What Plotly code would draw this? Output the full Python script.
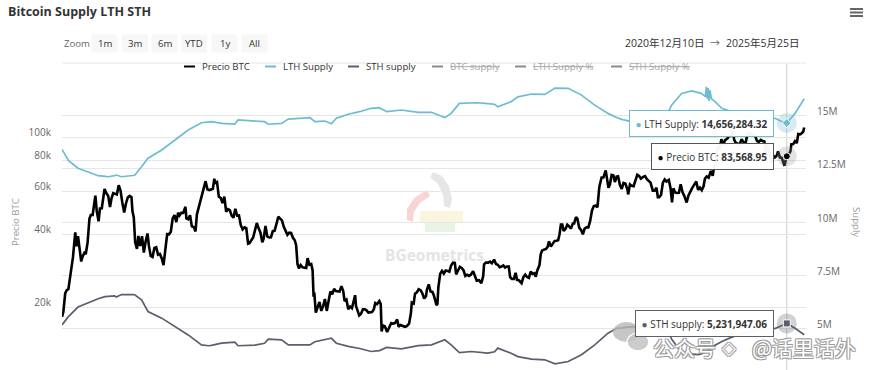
import math
import plotly.graph_objects as go

# ---------------- data ----------------
btc_dates = [
    "2020-12-10", "2020-12-13", "2020-12-17", "2020-12-20", "2020-12-24", "2020-12-27", "2020-12-31",
    "2021-01-03", "2021-01-08", "2021-01-11", "2021-01-14", "2021-01-17", "2021-01-21", "2021-01-24",
    "2021-01-28", "2021-01-31", "2021-02-04", "2021-02-08", "2021-02-11", "2021-02-15", "2021-02-18",
    "2021-02-21", "2021-02-24", "2021-02-28", "2021-03-03", "2021-03-07", "2021-03-10", "2021-03-13",
    "2021-03-17", "2021-03-21", "2021-03-25", "2021-03-28", "2021-04-01", "2021-04-05", "2021-04-09",
    "2021-04-13", "2021-04-17", "2021-04-21", "2021-04-25", "2021-04-29", "2021-05-03", "2021-05-07",
    "2021-05-11", "2021-05-13", "2021-05-16", "2021-05-19", "2021-05-23", "2021-05-26", "2021-05-30",
    "2021-06-03", "2021-06-07", "2021-06-11", "2021-06-15", "2021-06-18", "2021-06-22", "2021-06-26",
    "2021-06-30", "2021-07-04", "2021-07-08", "2021-07-12", "2021-07-16", "2021-07-20", "2021-07-24",
    "2021-07-28", "2021-08-01", "2021-08-05", "2021-08-09", "2021-08-13", "2021-08-17", "2021-08-21",
    "2021-08-24", "2021-08-28", "2021-09-01", "2021-09-06", "2021-09-08", "2021-09-12", "2021-09-16",
    "2021-09-20", "2021-09-24", "2021-09-28", "2021-10-01", "2021-10-05", "2021-10-09", "2021-10-13",
    "2021-10-16", "2021-10-20", "2021-10-24", "2021-10-28", "2021-11-01", "2021-11-05", "2021-11-08",
    "2021-11-10", "2021-11-14", "2021-11-18", "2021-11-22", "2021-11-26", "2021-11-30", "2021-12-04",
    "2021-12-08", "2021-12-12", "2021-12-16", "2021-12-20", "2021-12-24", "2021-12-28", "2022-01-01",
    "2022-01-05", "2022-01-09", "2022-01-13", "2022-01-17", "2022-01-21", "2022-01-24", "2022-01-28",
    "2022-02-01", "2022-02-05", "2022-02-09", "2022-02-13", "2022-02-17", "2022-02-21", "2022-02-24",
    "2022-02-28", "2022-03-04", "2022-03-08", "2022-03-12", "2022-03-16", "2022-03-20", "2022-03-24",
    "2022-03-28", "2022-04-01", "2022-04-05", "2022-04-09", "2022-04-13", "2022-04-17", "2022-04-21",
    "2022-04-25", "2022-04-29", "2022-05-03", "2022-05-06", "2022-05-09", "2022-05-12", "2022-05-16",
    "2022-05-20", "2022-05-24", "2022-05-28", "2022-05-31", "2022-06-04", "2022-06-08", "2022-06-11",
    "2022-06-13", "2022-06-15", "2022-06-18", "2022-06-22", "2022-06-26", "2022-06-30", "2022-07-04",
    "2022-07-08", "2022-07-12", "2022-07-16", "2022-07-20", "2022-07-24", "2022-07-28", "2022-08-01",
    "2022-08-05", "2022-08-09", "2022-08-13", "2022-08-17", "2022-08-20", "2022-08-24", "2022-08-28",
    "2022-09-01", "2022-09-05", "2022-09-09", "2022-09-12", "2022-09-14", "2022-09-18", "2022-09-21",
    "2022-09-25", "2022-09-29", "2022-10-03", "2022-10-07", "2022-10-11", "2022-10-15", "2022-10-19",
    "2022-10-23", "2022-10-26", "2022-10-30", "2022-11-04", "2022-11-07", "2022-11-09", "2022-11-12",
    "2022-11-16", "2022-11-21", "2022-11-25", "2022-11-30", "2022-12-04", "2022-12-08", "2022-12-13",
    "2022-12-16", "2022-12-20", "2022-12-25", "2022-12-30", "2023-01-03", "2023-01-08", "2023-01-12",
    "2023-01-14", "2023-01-18", "2023-01-21", "2023-01-25", "2023-01-29", "2023-02-02", "2023-02-06",
    "2023-02-10", "2023-02-14", "2023-02-16", "2023-02-20", "2023-02-24", "2023-02-28", "2023-03-03",
    "2023-03-09", "2023-03-11", "2023-03-13", "2023-03-17", "2023-03-21", "2023-03-25", "2023-03-29",
    "2023-04-02", "2023-04-06", "2023-04-10", "2023-04-14", "2023-04-18", "2023-04-21", "2023-04-25",
    "2023-04-29", "2023-05-03", "2023-05-07", "2023-05-11", "2023-05-15", "2023-05-19", "2023-05-23",
    "2023-05-28", "2023-06-01", "2023-06-05", "2023-06-10", "2023-06-15", "2023-06-19", "2023-06-21",
    "2023-06-25", "2023-06-30", "2023-07-04", "2023-07-08", "2023-07-13", "2023-07-17", "2023-07-21",
    "2023-07-25", "2023-07-29", "2023-08-02", "2023-08-06", "2023-08-10", "2023-08-14", "2023-08-17",
    "2023-08-21", "2023-08-25", "2023-08-29", "2023-09-01", "2023-09-05", "2023-09-11", "2023-09-15",
    "2023-09-19", "2023-09-23", "2023-09-27", "2023-10-01", "2023-10-05", "2023-10-09", "2023-10-12",
    "2023-10-16", "2023-10-20", "2023-10-23", "2023-10-26", "2023-10-30", "2023-11-03", "2023-11-07",
    "2023-11-10", "2023-11-14", "2023-11-18", "2023-11-22", "2023-11-26", "2023-11-30", "2023-12-03",
    "2023-12-06", "2023-12-09", "2023-12-12", "2023-12-16", "2023-12-20", "2023-12-24", "2023-12-28",
    "2024-01-01", "2024-01-04", "2024-01-08", "2024-01-11", "2024-01-15", "2024-01-19", "2024-01-23",
    "2024-01-27", "2024-01-31", "2024-02-04", "2024-02-08", "2024-02-12", "2024-02-16", "2024-02-20",
    "2024-02-24", "2024-02-28", "2024-03-04", "2024-03-08", "2024-03-13", "2024-03-16", "2024-03-19",
    "2024-03-22", "2024-03-26", "2024-03-30", "2024-04-02", "2024-04-06", "2024-04-09", "2024-04-13",
    "2024-04-17", "2024-04-21", "2024-04-25", "2024-04-30", "2024-05-01", "2024-05-05", "2024-05-09",
    "2024-05-13", "2024-05-17", "2024-05-21", "2024-05-25", "2024-05-29", "2024-06-03", "2024-06-07",
    "2024-06-11", "2024-06-15", "2024-06-19", "2024-06-24", "2024-06-28", "2024-07-02", "2024-07-05",
    "2024-07-08", "2024-07-12", "2024-07-16", "2024-07-20", "2024-07-24", "2024-07-29", "2024-08-02",
    "2024-08-05", "2024-08-08", "2024-08-12", "2024-08-16", "2024-08-20", "2024-08-24", "2024-08-28",
    "2024-09-01", "2024-09-06", "2024-09-10", "2024-09-14", "2024-09-18", "2024-09-22", "2024-09-27",
    "2024-10-01", "2024-10-05", "2024-10-09", "2024-10-13", "2024-10-16", "2024-10-20", "2024-10-24",
    "2024-10-29", "2024-11-02", "2024-11-05", "2024-11-08", "2024-11-11", "2024-11-13", "2024-11-17",
    "2024-11-21", "2024-11-25", "2024-11-29", "2024-12-04", "2024-12-08", "2024-12-11", "2024-12-16",
    "2024-12-19", "2024-12-23", "2024-12-27", "2024-12-31", "2025-01-04", "2025-01-07", "2025-01-10",
    "2025-01-13", "2025-01-17", "2025-01-20", "2025-01-24", "2025-01-27", "2025-01-31", "2025-02-03",
    "2025-02-07", "2025-02-11", "2025-02-15", "2025-02-19", "2025-02-23", "2025-02-26", "2025-02-28",
    "2025-03-02", "2025-03-04", "2025-03-08", "2025-03-10", "2025-03-14", "2025-03-18", "2025-03-22",
    "2025-03-25", "2025-03-29", "2025-04-02", "2025-04-06", "2025-04-08", "2025-04-10", "2025-04-13",
    "2025-04-17", "2025-04-21", "2025-04-23", "2025-04-27", "2025-05-01", "2025-05-05", "2025-05-08",
    "2025-05-12", "2025-05-15", "2025-05-19", "2025-05-21",
]
btc_price = [
    18250, 19150, 22800, 23450, 23730, 26270, 28990,
    32130, 40580, 35570, 39190, 35830, 30830, 32290,
    33470, 33110, 36940, 46200, 47910, 47940, 51590,
    57540, 49710, 45140, 50970, 51030, 55960, 61240,
    58870, 57390, 51700, 55770, 58920, 58730, 58200,
    63500, 60380, 53720, 49000, 53560, 56600, 57390,
    56700, 49720, 46760, 37000, 34770, 39290, 35680,
    39200, 33560, 37340, 40210, 35820, 32510, 32190,
    35040, 35290, 32880, 33130, 31800, 29800, 34280,
    39920, 39870, 40870, 46370, 47830, 44800, 48950,
    47700, 48900, 48850, 51770, 46400, 46000, 47800,
    43000, 42700, 41000, 48200, 51500, 54960, 57400,
    60900, 65990, 61120, 60600, 61000, 61400, 67550,
    64900, 65500, 56900, 56300, 53600, 57000, 49400,
    50600, 50100, 47600, 46700, 50800, 47600, 47700,
    43500, 41800, 42600, 42250, 36500, 36650, 37700,
    38700, 41400, 44400, 42200, 40500, 37000, 38300,
    43200, 39100, 38700, 38800, 41100, 41300, 44000,
    47100, 46300, 45500, 42800, 41100, 39700, 40500,
    40400, 38600, 37700, 36000, 30100, 28900, 29800,
    29200, 29100, 29000, 31800, 29900, 30100, 28400,
    22500, 22600, 19000, 19900, 21000, 19300, 20200,
    21600, 19300, 21200, 23200, 22600, 23800, 23300,
    23200, 23200, 24400, 23300, 21200, 21500, 19600,
    20100, 19800, 21400, 22400, 20200, 19400, 18500,
    18800, 19600, 19600, 19400, 19000, 19100, 19100,
    19600, 20800, 20600, 21200, 20600, 15900, 16800,
    16700, 15800, 16500, 17200, 17100, 17200, 17800,
    16600, 16900, 16800, 16600, 16700, 17100, 18900,
    20900, 20700, 22700, 23000, 23700, 23500, 22800,
    21700, 22200, 23600, 24800, 23200, 23100, 22400,
    20400, 20600, 24100, 27400, 28200, 27500, 28300,
    28200, 28000, 29700, 30500, 30400, 27300, 28300,
    29300, 29000, 28400, 26900, 27200, 26900, 27200,
    28100, 26800, 25700, 25800, 25100, 26800, 30000,
    30500, 30500, 30800, 30300, 31400, 30100, 29900,
    29200, 29400, 29700, 29100, 29400, 29400, 26600,
    26100, 26100, 27700, 25900, 25800, 25100, 26600,
    27200, 26600, 26400, 28000, 27400, 27600, 26700,
    28500, 29700, 33100, 34200, 34500, 34700, 35400,
    37300, 35500, 36600, 37400, 37500, 37700, 39900,
    43800, 43800, 41200, 41900, 43700, 43000, 42100,
    44200, 44200, 47000, 46300, 42500, 41600, 39900,
    42100, 42600, 42600, 45300, 50000, 52100, 52300,
    51600, 62500, 68300, 68300, 73100, 65300, 62000,
    63800, 70000, 69600, 65500, 68900, 69100, 63800,
    61300, 64900, 64500, 60600, 58200, 64000, 63100,
    62900, 67100, 70100, 69300, 67600, 68800, 69300,
    67300, 66200, 65100, 60300, 60300, 62100, 56700,
    56700, 57900, 65000, 67100, 65800, 66800, 61400,
    54000, 61700, 59300, 59000, 59100, 64100, 59400,
    57300, 53900, 57600, 60000, 61800, 63600, 65800,
    60800, 62100, 60600, 62900, 67600, 69000, 68200,
    72700, 69400, 75600, 76500, 88700, 90500, 89800,
    98300, 93000, 97400, 98800, 101200, 101200, 106100,
    97500, 94700, 94200, 93400, 98300, 96900, 94600,
    94500, 104100, 102000, 104700, 102000, 102400, 101300,
    96500, 95700, 97500, 96600, 96100, 84300, 84400,
    94200, 87200, 86100, 78500, 84300, 82700, 84000,
    87500, 82600, 82500, 78200, 76300, 79600, 83568.95,
    84900, 87500, 93700, 93800, 96500, 94700, 103200,
    102800, 103700, 105600, 109700,
]

supply_dates = [
    "2020-12-10", "2020-12-24", "2021-01-14", "2021-02-05", "2021-02-27", "2021-03-14", "2021-03-21",
    "2021-04-04", "2021-04-08", "2021-04-19", "2021-05-14", "2021-05-18", "2021-06-02", "2021-06-16",
    "2021-07-16", "2021-08-14", "2021-09-12", "2021-10-11", "2021-10-26", "2021-11-02", "2021-11-24",
    "2021-12-23", "2021-12-30", "2022-02-05", "2022-02-26", "2022-03-06", "2022-04-04", "2022-04-19",
    "2022-05-18", "2022-06-05", "2022-06-16", "2022-07-08", "2022-07-22", "2022-08-02", "2022-08-28",
    "2022-09-22", "2022-10-17", "2022-11-04", "2022-11-20", "2022-12-22", "2023-01-28", "2023-02-26",
    "2023-03-27", "2023-04-10", "2023-04-28", "2023-05-24", "2023-06-07", "2023-06-29", "2023-07-14",
    "2023-07-21", "2023-08-19", "2023-09-03", "2023-10-03", "2023-11-01", "2023-11-23", "2023-12-22",
    "2024-01-20", "2024-02-18", "2024-03-18", "2024-04-06", "2024-04-17", "2024-05-08", "2024-06-07",
    "2024-07-09", "2024-07-31", "2024-08-04", "2024-08-26", "2024-09-17", "2024-10-01", "2024-10-08",
    "2024-10-17", "2024-10-19", "2024-10-21", "2024-10-23", "2024-10-25", "2024-10-27", "2024-10-30",
    "2024-11-07", "2024-11-22", "2024-12-10", "2025-01-01", "2025-01-23", "2025-02-14", "2025-03-08",
    "2025-03-19", "2025-03-30", "2025-04-13", "2025-05-01", "2025-05-16", "2025-05-21",
]
lth_supply_m = [
    13.42, 12.90, 12.53, 12.37, 12.18, 12.15, 12.13,
    12.18, 12.21, 12.13, 12.17, 12.20, 12.60, 13.00,
    13.39, 13.86, 14.33, 14.67, 14.71, 14.72, 14.64,
    14.61, 14.80, 14.77, 14.72, 14.60, 14.64, 14.84,
    14.88, 14.91, 14.72, 14.75, 14.62, 14.88, 15.07,
    15.19, 15.35, 15.38, 15.19, 15.27, 15.16, 15.16,
    14.91, 15.11, 15.58, 15.60, 15.61, 15.57, 15.54,
    15.42, 15.66, 15.89, 16.02, 16.00, 16.30, 16.29,
    15.97, 15.50, 15.11, 14.92, 14.83, 14.72, 14.65,
    14.70, 15.30, 15.50, 16.05, 16.17, 16.10, 16.05,
    15.90, 16.36, 15.80, 16.30, 15.70, 16.20, 15.80,
    15.66, 15.35, 15.20, 15.05, 14.95, 14.87, 14.85,
    14.88, 14.75, 14.65628432, 15.11, 15.62, 15.80,
]
sth_supply_m = [
    5.16, 5.55, 6.00, 6.21, 6.39, 6.49, 6.50,
    6.53, 6.47, 6.59, 6.59, 6.58, 6.34, 5.79,
    5.48, 5.08, 4.69, 4.22, 4.18, 4.20, 4.30,
    4.35, 4.18, 4.21, 4.30, 4.49, 4.46, 4.22,
    4.21, 4.22, 4.37, 4.46, 4.54, 4.30, 4.15,
    4.05, 3.91, 3.95, 4.10, 4.03, 4.19, 4.22,
    4.46, 4.22, 3.86, 3.91, 3.88, 3.83, 3.90,
    4.07, 3.83, 3.67, 3.55, 3.52, 3.33, 3.44,
    3.76, 4.22, 4.77, 5.00, 5.02, 5.08, 5.05,
    5.00, 4.70, 4.50, 3.85, 3.80, 3.76, 3.80,
    3.86, 3.90, 3.94, 3.98, 4.02, 4.06, 4.10,
    4.20, 4.38, 4.55, 4.72, 4.83, 4.95, 4.98,
    5.00, 5.10, 5.23194706, 5.00, 4.80, 4.70,
]

left_tick_vals = [20000, 40000, 60000, 80000, 100000]
left_tick_text = ["20k", "40k", "60k", "80k", "100k"]
right_tick_vals = [5e6, 7.5e6, 10e6, 12.5e6, 15e6]
right_tick_text = ["5M", "7.5M", "10M", "12.5M", "15M"]
zoom_buttons = ["1m", "3m", "6m", "YTD", "1y", "All"]
legend_names = ["Precio BTC", "LTH Supply", "STH supply", "BTC supply", "LTH Supply %", "STH Supply %"]
legend_hidden = [False, False, False, True, True, True]
crosshair_date = "2025-04-13"
range_from = "2020年12月10日"
range_to = "2025年5月25日"
x_start, x_end = "2020-12-10", "2025-05-25"

# ---------------- style / layout ----------------
W, H = 875, 370
PL, PR, PT, PB = 62, 806, 63, 370
FONT = "Open Sans, Noto Sans, sans-serif"
CJK = "Open Sans, Noto Sans CJK SC, sans-serif"
C_BTC = "#000000"
C_LTH = "#6dbcd1"
C_STH = "#5b5e6b"
GRID = "#e6e6e6"
TXT = "#333333"
LBL = "#666666"


def px(x):
    return (x - PL) / (PR - PL)


def py(y):
    return (PB - y) / (PB - PT)


lth_abs = [v * 1e6 for v in lth_supply_m]
sth_abs = [v * 1e6 for v in sth_supply_m]

fig = go.Figure()
fig.add_trace(go.Scatter(x=supply_dates, y=sth_abs, yaxis="y2", mode="lines",
                         line=dict(color=C_STH, width=1.7), hoverinfo="skip", showlegend=False))
fig.add_trace(go.Scatter(x=supply_dates, y=lth_abs, yaxis="y2", mode="lines",
                         line=dict(color=C_LTH, width=1.7), hoverinfo="skip", showlegend=False))
fig.add_trace(go.Scatter(x=btc_dates, y=btc_price, yaxis="y", mode="lines",
                         line=dict(color=C_BTC, width=2.6), hoverinfo="skip", showlegend=False))

# crosshair hover markers
ib = btc_dates.index(crosshair_date)
isup = supply_dates.index(crosshair_date)
hover_pts = [
    (btc_price[ib], "y", C_BTC, "#9a9a9a", "circle"),
    (lth_abs[isup], "y2", C_LTH, C_LTH, "diamond"),
    (sth_abs[isup], "y2", C_STH, C_STH, "square"),
]
for val, ax, col, halo, sym in hover_pts:
    fig.add_trace(go.Scatter(x=[crosshair_date], y=[val], yaxis=ax, mode="markers",
                             marker=dict(size=20, color=halo, opacity=0.28, line=dict(width=0)),
                             hoverinfo="skip", showlegend=False))
    fig.add_trace(go.Scatter(x=[crosshair_date], y=[val], yaxis=ax, mode="markers",
                             marker=dict(size=7, color=col, symbol=sym, line=dict(width=1, color="white")),
                             hoverinfo="skip", showlegend=False))

shapes = []
annotations = []

# top grid line (17.5M level) and crosshair
shapes.append(dict(type="line", xref="paper", yref="paper", x0=0, x1=1, y0=1, y1=1,
                   line=dict(color=GRID, width=1)))
shapes.append(dict(type="line", xref="x", yref="paper", x0=crosshair_date, x1=crosshair_date,
                   y0=0, y1=1, line=dict(color="#cccccc", width=1), layer="below"))

# title
annotations.append(dict(xref="paper", yref="paper", x=px(6), y=py(11.5), xanchor="left", yanchor="middle",
                        text="<b>Bitcoin Supply LTH STH</b>", showarrow=False,
                        font=dict(family=FONT, size=12.5, color=TXT)))

# hamburger icon
for yy in (9, 12.5, 16):
    shapes.append(dict(type="line", xref="paper", yref="paper", x0=px(850), x1=px(863),
                       y0=py(yy), y1=py(yy), line=dict(color="#666666", width=2)))

# range selector
annotations.append(dict(xref="paper", yref="paper", x=px(62), y=py(43.5), xanchor="left", yanchor="middle",
                        text="Zoom", showarrow=False, font=dict(family=FONT, size=9.6, color=LBL)))
btn_centers = [104.5, 135, 164.5, 194, 224.5, 254.5]
for lab, cx in zip(zoom_buttons, btn_centers):
    shapes.append(dict(type="rect", xref="paper", yref="paper", x0=px(cx - 13), x1=px(cx + 13),
                       y0=py(52.5), y1=py(34.5), fillcolor="#f7f7f7", line=dict(width=0)))
    annotations.append(dict(xref="paper", yref="paper", x=px(cx), y=py(43.5), xanchor="center",
                            yanchor="middle", text=lab, showarrow=False,
                            font=dict(family=FONT, size=9.6, color=TXT)))

# date range inputs
annotations.append(dict(xref="paper", yref="paper", x=px(707), y=py(43.5), xanchor="right", yanchor="middle",
                        text=range_from, showarrow=False, font=dict(family=CJK, size=10.5, color=TXT)))
annotations.append(dict(xref="paper", yref="paper", x=px(715), y=py(43.5), xanchor="center", yanchor="middle",
                        text="→", showarrow=False, font=dict(family=CJK, size=10, color=LBL)))
annotations.append(dict(xref="paper", yref="paper", x=px(802), y=py(43.5), xanchor="right", yanchor="middle",
                        text=range_to, showarrow=False, font=dict(family=CJK, size=10.5, color=TXT)))

# legend
legend_colors = [C_BTC, C_LTH, C_STH, "#8a8a8a", "#8a8a8a", "#8a8a8a"]
legend_text_x = [200, 281, 364, 448, 531, 627]
for name, col, tx, hid in zip(legend_names, legend_colors, legend_text_x, legend_hidden):
    shapes.append(dict(type="line", xref="paper", yref="paper", x0=px(tx - 16), x1=px(tx - 5),
                       y0=py(66.5), y1=py(66.5), line=dict(color=col, width=2)))
    f = dict(family=FONT, size=9.6, color="#a8a8a8" if hid else TXT)
    if hid:
        f["lineposition"] = "through"
    annotations.append(dict(xref="paper", yref="paper", x=px(tx), y=py(66.5), xanchor="left",
                            yanchor="middle", text=name, showarrow=False, font=f))

# axis titles
annotations.append(dict(xref="paper", yref="paper", x=px(15), y=py(222), textangle=-90,
                        xanchor="center", yanchor="middle", text="Precio BTC", showarrow=False,
                        font=dict(family=FONT, size=9.6, color="#9a9a9a")))
annotations.append(dict(xref="paper", yref="paper", x=px(857), y=py(222), textangle=90,
                        xanchor="center", yanchor="middle", text="Supply", showarrow=False,
                        font=dict(family=FONT, size=9.6, color="#9a9a9a")))

# BGeometrics watermark
def path(points):
    return "M " + " L ".join(f"{px(a):.5f},{py(b):.5f}" for a, b in points) + " Z"

shapes.append(dict(type="path", xref="paper", yref="paper", layer="below",
                   path=path([(433, 172), (442, 176), (449, 186), (452, 199), (450, 208), (444, 206),
                              (443, 195), (438, 184), (430, 177)]),
                   fillcolor="#d6d6d6", opacity=0.6, line=dict(width=0)))
shapes.append(dict(type="path", xref="paper", yref="paper", layer="below",
                   path=path([(427, 190), (430, 196), (420, 203), (414, 212), (413, 222), (407, 220),
                              (407, 209), (414, 198)]),
                   fillcolor="#f2b9b9", opacity=0.6, line=dict(width=0)))
shapes.append(dict(type="rect", xref="paper", yref="paper", layer="below", x0=px(420), x1=px(463),
                   y0=py(222), y1=py(211), fillcolor="#f6f2cf", opacity=0.7, line=dict(width=0)))
shapes.append(dict(type="rect", xref="paper", yref="paper", layer="below", x0=px(425), x1=px(455),
                   y0=py(232), y1=py(222), fillcolor="#e0eedb", opacity=0.7, line=dict(width=0)))
annotations.append(dict(xref="paper", yref="paper", x=px(434), y=py(255), xanchor="center", yanchor="middle",
                        text="<b>BGeometrics</b>", showarrow=False,
                        font=dict(family=FONT, size=15.5, color="#e4e4e4")))

# tooltips (split, one per series at the crosshair)
tips = [
    ("LTH Supply", lth_abs[isup], "y2", lth_abs[isup], C_LTH),
    ("Precio BTC", btc_price[ib], "y", math.log10(btc_price[ib]), "#555555"),
    ("STH supply", sth_abs[isup], "y2", sth_abs[isup], C_STH),
]
dot_cols = [C_LTH, C_BTC, C_STH]
for (name, val, yref, ypos, bcol), dcol in zip(tips, dot_cols):
    annotations.append(dict(xref="x", yref=yref, x=crosshair_date, y=ypos, xanchor="right",
                            yanchor="middle", xshift=-13, showarrow=False,
                            text=f"<span style='color:{dcol}'>●</span> {name}: <b>{val:,.2f}</b>",
                            bgcolor="rgba(255,255,255,0.96)", bordercolor=bcol, borderwidth=1,
                            borderpad=5.5, font=dict(family=FONT, size=10, color=TXT)))

# WeChat overlay watermark
shapes.append(dict(type="circle", xref="paper", yref="paper", x0=px(613), x1=px(640), y0=py(342), y1=py(322),
                   fillcolor="#b8b8b8", opacity=0.8, line=dict(width=0)))
shapes.append(dict(type="circle", xref="paper", yref="paper", x0=px(627), x1=px(649), y0=py(351), y1=py(333),
                   fillcolor="#c4c4c4", opacity=0.85, line=dict(width=1.5, color="white")))
outline = "-1px -1px 0 #9c9c9c, 1px -1px 0 #9c9c9c, -1px 1px 0 #9c9c9c, 1px 1px 0 #9c9c9c"
annotations.append(dict(xref="paper", yref="paper", x=px(684), y=py(347), xanchor="center", yanchor="middle",
                        text="公众号", showarrow=False,
                        font=dict(family="Noto Sans CJK SC", size=21, color="white", shadow=outline)))
annotations.append(dict(xref="paper", yref="paper", x=px(729), y=py(347), xanchor="center", yanchor="middle",
                        text="◈", showarrow=False,
                        font=dict(family="DejaVu Sans", size=18, color="white", shadow=outline)))
annotations.append(dict(xref="paper", yref="paper", x=px(750), y=py(347), xanchor="left", yanchor="middle",
                        text="@话里话外", showarrow=False,
                        font=dict(family="Noto Sans CJK SC", size=21, color="white", shadow=outline)))

fig.update_layout(
    width=W, height=H,
    margin=dict(l=PL, r=W - PR, t=PT, b=H - PB, pad=0, autoexpand=False),
    paper_bgcolor="white", plot_bgcolor="white",
    font=dict(family=FONT, size=10, color=LBL),
    showlegend=False,
    hovermode=False,
    xaxis=dict(type="date", range=[x_start, x_end], showgrid=False, showticklabels=False,
               showline=False, zeroline=False, ticks="", automargin=False),
    yaxis=dict(type="log", range=[4.0424, 5.3058], tickvals=left_tick_vals, ticktext=left_tick_text,
               showgrid=True, gridcolor=GRID, gridwidth=1, zeroline=False, showline=False, ticks="",
               ticklabelshift=-5, ticklabelstandoff=10, automargin=False,
               tickfont=dict(family=FONT, size=10, color=LBL)),
    yaxis2=dict(overlaying="y", side="right", range=[3.04e6, 17.48e6], tickvals=right_tick_vals,
                ticktext=right_tick_text, showgrid=True, gridcolor=GRID, gridwidth=1, zeroline=False,
                showline=False, ticks="", ticklabelshift=-4, ticklabelstandoff=10,
                automargin=False, tickfont=dict(family=FONT, size=10, color=LBL)),
    shapes=shapes,
    annotations=annotations,
)

fig.write_html("out.html", config={"displayModeBar": False, "staticPlot": True},
               post_script="document.body.style.margin='0px';document.body.style.overflow='hidden';")
